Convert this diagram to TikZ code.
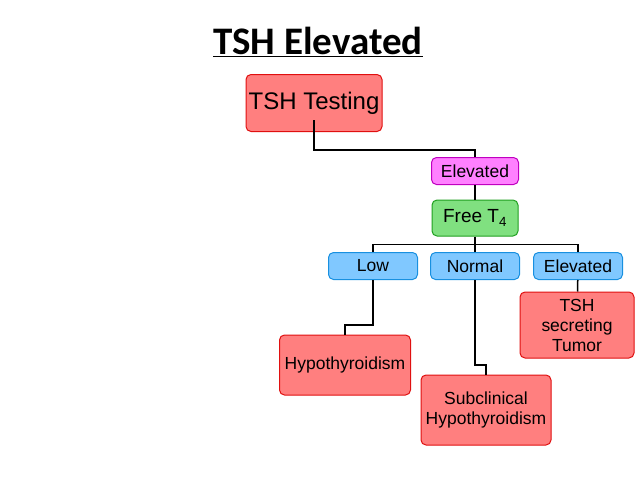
\documentclass[tikz,border=0pt]{standalone}
\usepackage{fontspec}
\setmainfont{Liberation Sans}
\newfontfamily\titlefont{Carlito}
\usetikzlibrary{positioning}
\definecolor{redfill}{HTML}{FF7F7F}
\definecolor{redline}{HTML}{E01010}
\definecolor{pinkfill}{HTML}{FF80FF}
\definecolor{pinkline}{HTML}{C000C0}
\definecolor{greenfill}{HTML}{80E080}
\definecolor{greenline}{HTML}{20A020}
\definecolor{bluefill}{HTML}{80C8FF}
\definecolor{blueline}{HTML}{1890E0}
\tikzset{
  box/.style={draw, rounded corners=5pt, line width=1pt, align=center, inner sep=1pt},
  result/.style={box, fill=redfill, draw=redline, font=\fontsize{17.5}{20}\selectfont},
  level/.style={box, fill=bluefill, draw=blueline, minimum width=89pt, minimum height=27pt, font=\fontsize{17.5}{20}\selectfont},
  link/.style={line width=1.5pt}
}
\begin{document}
\begin{tikzpicture}[x=1pt,y=-1pt]
	\useasboundingbox (0,0) rectangle (638,479);
	\node[font=\titlefont\bfseries\fontsize{39}{42}\selectfont] (title) at (318,42) {\underline{TSH Elevated}};
	\node[result, minimum width=136pt, minimum height=57pt, font=\fontsize{24}{26}\selectfont] (test) at (314,103) {TSH Testing};
	\node[box, fill=pinkfill, draw=pinkline, minimum width=87pt, minimum height=27pt, font=\fontsize{17.5}{20}\selectfont] (elev) at (475,171) {Elevated};
	\node[box, fill=greenfill, draw=greenline, minimum width=86pt, minimum height=36pt, font=\fontsize{19}{21}\selectfont] (ft4) at (475,218) {Free T\textsubscript{4}};
	\node[level] (low) at (373,266) {Low};
	\node[level] (normal) at (475,266) {Normal};
	\node[level] (high) at (578,266) {Elevated};
	\node[result, minimum width=131pt, minimum height=60pt] (hypo) at (345,365) {Hypothyroidism};
	\node[result, minimum width=130pt, minimum height=70pt] (sub) at (486,410) {Subclinical\\Hypothyroidism};
	\node[result, minimum width=114pt, minimum height=66pt] (tumor) at (577,325) {TSH\\secreting\\Tumor};
	% connectors
	\draw[link] (test.south) ++(0,-12) |- (elev.north |- 0,150) -- (elev.north);
	\draw[link] (elev) -- (ft4);
	\draw[link] (ft4.south) -- ++(0,8) coordinate (split);
	\draw[link] (low.north) |- (split) -| (high.north);
	\draw[link] (split) -- (normal.north);
	\draw[link] (low.south) |- (hypo.north |- 0,325) -- (hypo.north);
	\draw[link] (normal.south) |- (sub.north |- 0,365) -- (sub.north);
	\draw[link] (high) -- (tumor);
\end{tikzpicture}
\end{document}
